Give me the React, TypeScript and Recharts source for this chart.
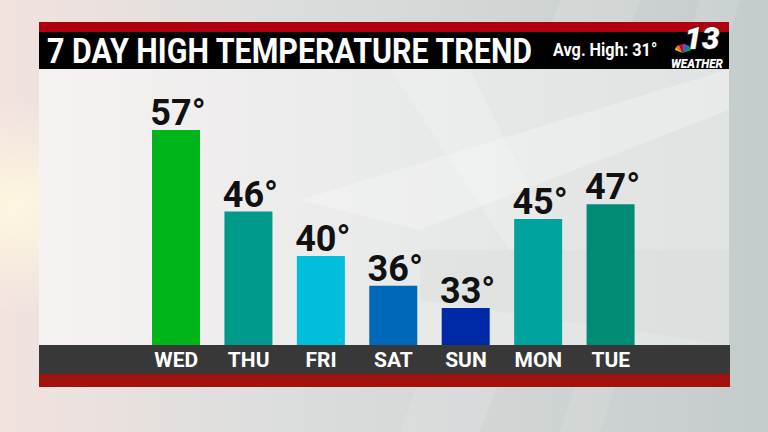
import { BarChart, Bar, XAxis, YAxis, Cell, LabelList } from 'recharts';

// Data read from the graphic
const days = ['WED', 'THU', 'FRI', 'SAT', 'SUN', 'MON', 'TUE'];
const highs = [57, 46, 40, 36, 33, 45, 47];
const barColors = ['#00b51a', '#009a8c', '#00bedc', '#0068b8', '#0029a8', '#00a39e', '#008b76'];
const title = '7 DAY HIGH TEMPERATURE TREND';
const avgHigh = 31;

const data = days.map((day, i) => ({ day, high: highs[i] }));

const FONT = "Roboto, 'DejaVu Sans', sans-serif";

const DayTick = (props: any) => {
  const { x, y, payload } = props;
  return (
    <text x={x} y={y + 21.5} textAnchor="middle" fill="#ffffff" fontSize={21} fontWeight={700} fontFamily={FONT}>
      {payload.value}
    </text>
  );
};

const TempLabel = (props: any) => {
  const { x, y, width, value } = props;
  return (
    <text x={x + width / 2 + 2} y={y - 5} textAnchor="middle" fill="#111111" fontSize={36} fontWeight={700} fontFamily={FONT}>
      {value}°
    </text>
  );
};

// Backdrop: studio background, header bar, bottom strip, station logo
const Backdrop = () => (
  <svg width={768} height={432} style={{ position: 'absolute', left: 0, top: 0 }}>
    <defs>
      <linearGradient id="bg" x1="0" y1="0" x2="1" y2="0">
        <stop offset="0" stopColor="#f2e2de" />
        <stop offset="0.35" stopColor="#dcdedd" />
        <stop offset="1" stopColor="#c4cccb" />
      </linearGradient>
      <radialGradient id="glow" cx="0.02" cy="0.48" r="0.25">
        <stop offset="0" stopColor="#fff8e0" stopOpacity="0.9" />
        <stop offset="1" stopColor="#fff8e0" stopOpacity="0" />
      </radialGradient>
      <linearGradient id="panel" x1="0" y1="0" x2="1" y2="0">
        <stop offset="0" stopColor="#f6f2f1" />
        <stop offset="0.5" stopColor="#e9eaea" />
        <stop offset="1" stopColor="#dfe3e2" />
      </linearGradient>
    </defs>
    <rect x={0} y={0} width={768} height={432} fill="url(#bg)" />
    <rect x={0} y={0} width={768} height={432} fill="url(#glow)" />
    <polygon points="560,0 640,0 480,432 400,432" fill="#ffffff" opacity={0.12} />
    <polygon points="700,0 740,0 600,432 560,432" fill="#ffffff" opacity={0.1} />

    <rect x={39} y={69} width={690} height={276} fill="url(#panel)" />
    <polygon points="300,200 729,69 729,110 420,230" fill="#ffffff" opacity={0.25} />
    <polygon points="390,69 470,69 560,250 510,250" fill="#ffffff" opacity={0.18} />
    <polygon points="420,250 729,250 729,345 420,300" fill="#d6d9d8" opacity={0.35} />

    {/* header */}
    <rect x={39} y={22} width={690} height={10} fill="#b00010" />
    <rect x={39} y={32} width={690} height={37} fill="#000000" />
    <text transform="translate(47,62.5) scale(0.835,1)" fill="#ffffff" fontSize={35} fontWeight={700}
      fontFamily={FONT} textLength={581} lengthAdjust="spacingAndGlyphs">
      {title}
    </text>
    <text transform="translate(553,56) scale(0.75,1)" fill="#ffffff" fontSize={18} fontWeight={700}
      fontFamily={FONT} textLength={139} lengthAdjust="spacingAndGlyphs">
      {`Avg. High: ${avgHigh}°`}
    </text>

    {/* logo */}
    <text x={702} y={49} textAnchor="middle" fill="#ffffff" stroke="#333333" strokeWidth={1.5}
      paintOrder="stroke" fontSize={31} fontWeight={900} fontStyle="italic" fontFamily={FONT}>
      13
    </text>
    <g transform="translate(683,53)">
      <path d="M0,0 L-8,-3 A8,8 0 0 1 -7,-6 Z" fill="#f5c400" />
      <path d="M0,0 L-7,-6 A8,8 0 0 1 -4,-8 Z" fill="#f37021" />
      <path d="M0,0 L-4,-8 A8,8 0 0 1 0,-9 Z" fill="#cc004c" />
      <path d="M0,0 L0,-9 A8,8 0 0 1 4,-8 Z" fill="#6460aa" />
      <path d="M0,0 L4,-8 A8,8 0 0 1 7,-6 Z" fill="#0089d0" />
      <path d="M0,0 L7,-6 A8,8 0 0 1 8,-3 Z" fill="#0db14b" />
    </g>
    <text x={697} y={67.5} textAnchor="middle" fill="#ffffff" fontSize={12} fontWeight={900}
      fontStyle="italic" fontFamily={FONT} textLength={52} lengthAdjust="spacingAndGlyphs">
      WEATHER
    </text>

    {/* bottom strip */}
    <rect x={39} y={345} width={691} height={29} fill="#383838" />
    <rect x={39} y={374} width={691} height={13} fill="#a0130c" />
  </svg>
);

export default function App() {
  return (
    <div style={{ position: 'fixed', left: 0, top: 0, width: 768, height: 432, overflow: 'hidden' }}>
      <Backdrop />
      <div style={{ position: 'absolute', left: 0, top: 0 }}>
        <BarChart
          width={768}
          height={432}
          data={data}
          margin={{ top: 93, right: 121, bottom: 57, left: 140 }}
        >
          <XAxis
            dataKey="day"
            axisLine={false}
            tickLine={false}
            tickSize={0}
            tickMargin={0}
            height={30}
            interval={0}
            tick={<DayTick />}
          />
          <YAxis hide domain={[28, 62]} allowDataOverflow />
          <Bar dataKey="high" barSize={48} isAnimationActive={false}>
            {data.map((_entry, index) => (
              <Cell key={`cell-${index}`} fill={barColors[index]} />
            ))}
            <LabelList dataKey="high" content={<TempLabel />} />
          </Bar>
        </BarChart>
      </div>
    </div>
  );
}
